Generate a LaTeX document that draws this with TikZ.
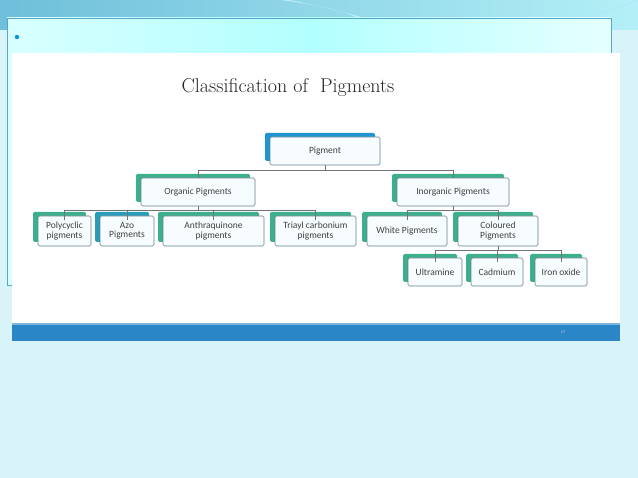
\documentclass[tikz,border=0pt]{standalone}
\usepackage{fontspec}
\setmainfont{Carlito}
\newfontfamily\serifo{Latin Modern Roman}
\definecolor{band}{HTML}{6EBFDA}
\definecolor{bg}{HTML}{D8F4F8}
\definecolor{sh}{HTML}{3CB08C}
\definecolor{shb}{HTML}{1E95D0}
\definecolor{bar}{HTML}{2A86C6}
\begin{document}
\begin{tikzpicture}[x=1pt,y=-1pt,
  bx/.style={draw=black!50!cyan!60!gray,fill=cyan!3,line width=0.6pt,rounded corners=1.5pt,inner sep=1pt,
    text=black!75,font=\fontsize{9.5}{9.5}\selectfont,align=center},
  ln/.style={draw=black!55,line width=0.5pt}]
\useasboundingbox (0,0) rectangle (638,478);
\fill[bg] (0,0) rectangle (638,478);
\shade[left color=band,right color=band!60!cyan!40] (0,0) rectangle (638,30);
\fill[white!75!cyan] (290,0) .. controls (330,8) and (350,14) .. (365,18) -- (358,18) .. controls (340,10) and (320,5) .. (280,0) -- cycle;
\draw[white!70!cyan,line width=1pt] (590,18) .. controls (610,10) and (625,5) .. (638,0);
\shade[left color=white!85!cyan,right color=white!90!cyan,middle color=cyan!30!white,draw=cyan!60!gray] (7,18) rectangle (611,285);
\fill[cyan!80!blue] (17,37) circle (2.2);
\fill[white] (12,53) rectangle (620,323);
\fill[bar] (12,323) rectangle (620,341);
\fill[bar!60!white] (12,323) rectangle (620,325);
\node[text=white!85!blue,font=\fontsize{4}{4}\selectfont] (pg) at (563,332) {17};
\node[font=\serifo\fontsize{20}{22}\selectfont,text=black!85] (title) at (288,88) {Classification of\ \ Pigments};
\newcommand\pbox[7]{%
  \fill[#7,rounded corners=1.5pt] (#1-5,#2-4) rectangle (#3-5,#4-4);
  \node[bx,minimum width=#3-#1,minimum height=#4-#2] (#5) at ({(#1+#3)/2},{(#2+#4)/2}) {#6};}
\pbox{270}{137}{380}{165}{pig}{Pigment}{shb}
\pbox{141}{178}{255}{206}{org}{Organic Pigments}{sh}
\pbox{397}{178}{509}{206}{inorg}{Inorganic Pigments}{sh}
\pbox{38}{216}{91}{246}{poly}{Polycyclic\\pigments}{sh}
\pbox{100}{216}{154}{246}{azo}{Azo\\Pigments}{shb!70!sh}
\pbox{163}{216}{264}{246}{anth}{Anthraquinone\\pigments}{sh}
\pbox{275}{216}{356}{246}{tri}{Triayl carbonium\\pigments}{sh}
\pbox{367}{216}{447}{246}{white}{White Pigments}{sh}
\pbox{458}{216}{538}{246}{col}{Coloured\\Pigments}{sh}
\pbox{408}{258}{462}{286}{ult}{Ultramine}{sh}
\pbox{471}{258}{523}{286}{cad}{Cadmium}{sh}
\pbox{535}{258}{587}{286}{iron}{Iron oxide}{sh}
\draw[ln] (pig.south) -- ++(0,5) coordinate (b1);
\foreach \n in {org,inorg} \draw[ln] (b1) -| (\n.north);
\draw[ln] (org.south) -- ++(0,4) coordinate (b2);
\foreach \n in {poly,azo,anth,tri} \draw[ln] (b2) -| ([yshift=-4]\n.north);
\draw[ln] (inorg.south) -- ++(0,4) coordinate (b3);
\foreach \n in {white,col} \draw[ln] (b3) -| ([yshift=-4]\n.north);
\draw[ln] (col.south) -- ++(0,4) coordinate (b4);
\foreach \n in {ult,cad,iron} \draw[ln] (b4) -| ([yshift=-4]\n.north);
\end{tikzpicture}
\end{document}
